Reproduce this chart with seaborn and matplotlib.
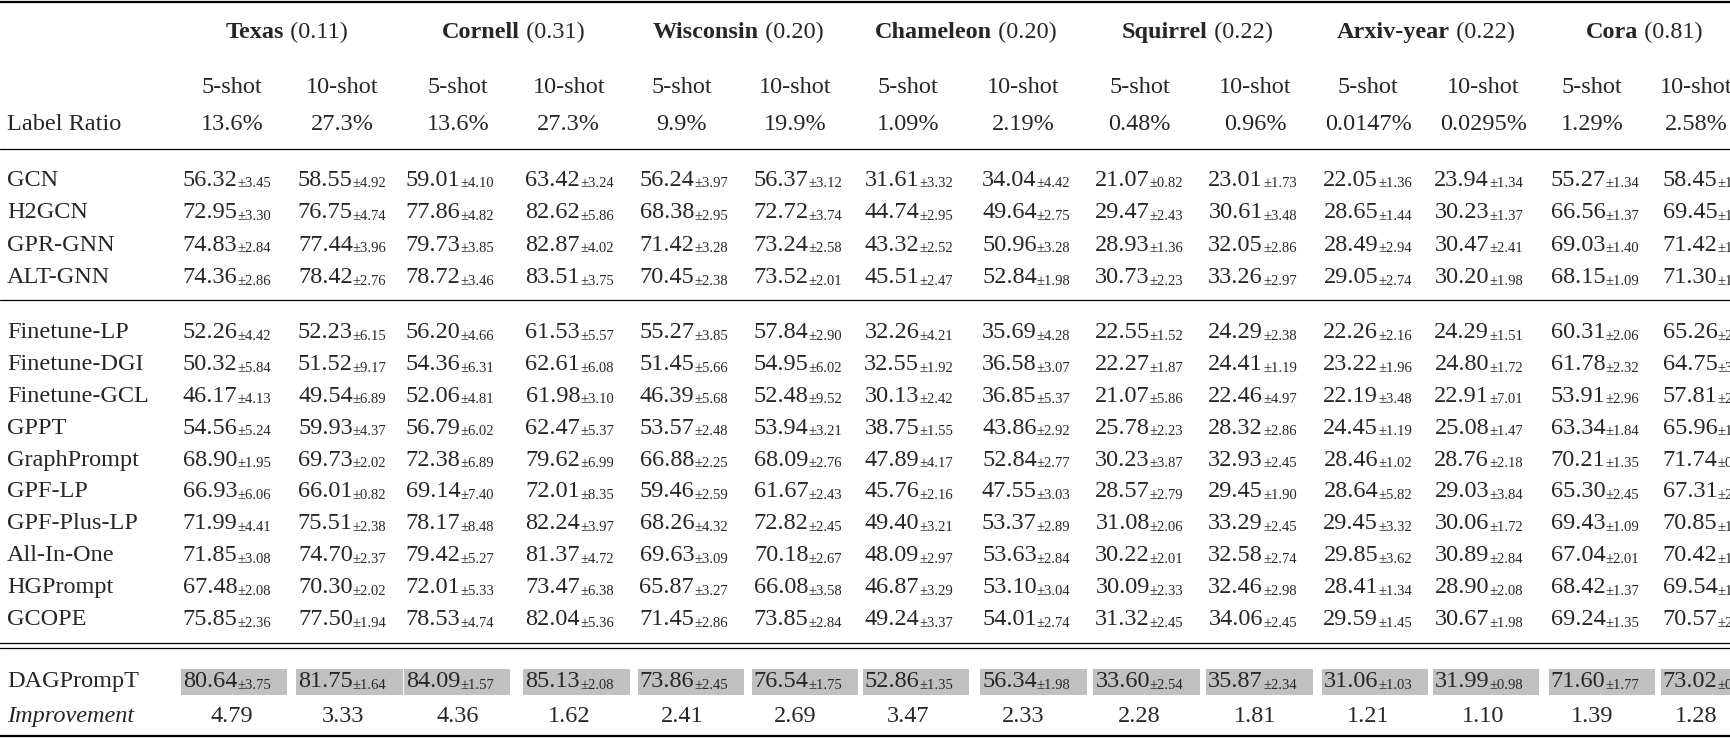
import matplotlib
matplotlib.use("Agg")
import matplotlib.pyplot as plt
import seaborn as sns
from matplotlib.patches import Rectangle

sns.set_theme(style="white")
plt.rcParams['font.family'] = ['Liberation Serif', 'DejaVu Serif']

datasets = ["Texas", "Cornell", "Wisconsin", "Chameleon", "Squirrel", "Arxiv-year", "Cora"]
homophily = ["(0.11)", "(0.31)", "(0.20)", "(0.20)", "(0.22)", "(0.22)", "(0.81)"]
shots = ["5-shot", "10-shot"] * 7
ratios = ["13.6%", "27.3%", "13.6%", "27.3%", "9.9%", "19.9%", "1.09%", "2.19%",
          "0.48%", "0.96%", "0.0147%", "0.0295%", "1.29%", "2.58%"]

group1 = ["GCN", "H2GCN", "GPR-GNN", "ALT-GNN"]
group1_mean = [
    [56.32, 58.55, 59.01, 63.42, 56.24, 56.37, 31.61, 34.04, 21.07, 23.01, 22.05, 23.94, 55.27, 58.45],
    [72.95, 76.75, 77.86, 82.62, 68.38, 72.72, 44.74, 49.64, 29.47, 30.61, 28.65, 30.23, 66.56, 69.45],
    [74.83, 77.44, 79.73, 82.87, 71.42, 73.24, 43.32, 50.96, 28.93, 32.05, 28.49, 30.47, 69.03, 71.42],
    [74.36, 78.42, 78.72, 83.51, 70.45, 73.52, 45.51, 52.84, 30.73, 33.26, 29.05, 30.20, 68.15, 71.30],
]
group1_std = [
    [3.45, 4.92, 4.10, 3.24, 3.97, 3.12, 3.32, 4.42, 0.82, 1.73, 1.36, 1.34, 1.34, 1.74],
    [3.30, 4.74, 4.82, 5.86, 2.95, 3.74, 2.95, 2.75, 2.43, 3.48, 1.44, 1.37, 1.37, 1.42],
    [2.84, 3.96, 3.85, 4.02, 3.28, 2.58, 2.52, 3.28, 1.36, 2.86, 2.94, 2.41, 1.40, 1.08],
    [2.86, 2.76, 3.46, 3.75, 2.38, 2.01, 2.47, 1.98, 2.23, 2.97, 2.74, 1.98, 1.09, 1.42],
]

group2 = ["Finetune-LP", "Finetune-DGI", "Finetune-GCL", "GPPT", "GraphPrompt", "GPF-LP",
          "GPF-Plus-LP", "All-In-One", "HGPrompt", "GCOPE"]
group2_mean = [
    [52.26, 52.23, 56.20, 61.53, 55.27, 57.84, 32.26, 35.69, 22.55, 24.29, 22.26, 24.29, 60.31, 65.26],
    [50.32, 51.52, 54.36, 62.61, 51.45, 54.95, 32.55, 36.58, 22.27, 24.41, 23.22, 24.80, 61.78, 64.75],
    [46.17, 49.54, 52.06, 61.98, 46.39, 52.48, 30.13, 36.85, 21.07, 22.46, 22.19, 22.91, 53.91, 57.81],
    [54.56, 59.93, 56.79, 62.47, 53.57, 53.94, 38.75, 43.86, 25.78, 28.32, 24.45, 25.08, 63.34, 65.96],
    [68.90, 69.73, 72.38, 79.62, 66.88, 68.09, 47.89, 52.84, 30.23, 32.93, 28.46, 28.76, 70.21, 71.74],
    [66.93, 66.01, 69.14, 72.01, 59.46, 61.67, 45.76, 47.55, 28.57, 29.45, 28.64, 29.03, 65.30, 67.31],
    [71.99, 75.51, 78.17, 82.24, 68.26, 72.82, 49.40, 53.37, 31.08, 33.29, 29.45, 30.06, 69.43, 70.85],
    [71.85, 74.70, 79.42, 81.37, 69.63, 70.18, 48.09, 53.63, 30.22, 32.58, 29.85, 30.89, 67.04, 70.42],
    [67.48, 70.30, 72.01, 73.47, 65.87, 66.08, 46.87, 53.10, 30.09, 32.46, 28.41, 28.90, 68.42, 69.54],
    [75.85, 77.50, 78.53, 82.04, 71.45, 73.85, 49.24, 54.01, 31.32, 34.06, 29.59, 30.67, 69.24, 70.57],
]
group2_std = [
    [4.42, 6.15, 4.66, 5.57, 3.85, 2.90, 4.21, 4.28, 1.52, 2.38, 2.16, 1.51, 2.06, 2.07],
    [5.84, 9.17, 6.31, 6.08, 5.66, 6.02, 1.92, 3.07, 1.87, 1.19, 1.96, 1.72, 2.32, 3.97],
    [4.13, 6.89, 4.81, 3.10, 5.68, 9.52, 2.42, 5.37, 5.86, 4.97, 3.48, 7.01, 2.96, 2.85],
    [5.24, 4.37, 6.02, 5.37, 2.48, 3.21, 1.55, 2.92, 2.23, 2.86, 1.19, 1.47, 1.84, 1.32],
    [1.95, 2.02, 6.89, 6.99, 2.25, 2.76, 4.17, 2.77, 3.87, 2.45, 1.02, 2.18, 1.35, 0.97],
    [6.06, 0.82, 7.40, 8.35, 2.59, 2.43, 2.16, 3.03, 2.79, 1.90, 5.82, 3.84, 2.45, 2.94],
    [4.41, 2.38, 8.48, 3.97, 4.32, 2.45, 3.21, 2.89, 2.06, 2.45, 3.32, 1.72, 1.09, 1.86],
    [3.08, 2.37, 5.27, 4.72, 3.09, 2.67, 2.97, 2.84, 2.01, 2.74, 3.62, 2.84, 2.01, 1.64],
    [2.08, 2.02, 5.33, 6.38, 3.27, 3.58, 3.29, 3.04, 2.33, 2.98, 1.34, 2.08, 1.37, 1.54],
    [2.36, 1.94, 4.74, 5.36, 2.86, 2.84, 3.37, 2.74, 2.45, 2.45, 1.45, 1.98, 1.35, 2.64],
]

ours = "DAGPrompT"
ours_mean = [80.64, 81.75, 84.09, 85.13, 73.86, 76.54, 52.86, 56.34, 33.60, 35.87, 31.06, 31.99, 71.60, 73.02]
ours_std = [3.75, 1.64, 1.57, 2.08, 2.45, 1.75, 1.35, 1.98, 2.54, 2.34, 1.03, 0.98, 1.77, 0.93]
improvement = [4.79, 3.33, 4.36, 1.62, 2.41, 2.69, 3.47, 2.33, 2.28, 1.81, 1.21, 1.10, 1.39, 1.28]

W, H = 1531, 606
col_start = [163, 265, 360, 466, 567, 668, 766, 870, 970, 1070, 1172, 1270, 1373, 1472]
col_center = [205, 303, 405, 503, 603, 703, 803, 905, 1008, 1110, 1210, 1312, 1408, 1500]
ds_center = [254, 454, 653, 854, 1059, 1261, 1454]
MAIN, SUB = 17.5, 10.5

fig = plt.figure(figsize=(17.31, 7.38), dpi=100)
ax = fig.add_axes([0, 0, 1, 1])
ax.set_xlim(0, W)
ax.set_ylim(H, 0)
ax.axis("off")

def cell(x0, y, m, s, hl=False):
    split = x0 + 47
    if hl:
        ax.add_patch(Rectangle((x0 - 3, y - 11), 94, 22, color="#c0c0c0", zorder=0, lw=0))
    ax.text(split, y, f"{m:.2f}", ha="right", va="center", fontsize=MAIN, zorder=2)
    ax.text(split, y + 3, f"±{s:.2f}", ha="left", va="center", fontsize=SUB, zorder=2)

fig.canvas.draw()
r = fig.canvas.get_renderer()
px_per_unit = ax.transData.transform((1, 0))[0] - ax.transData.transform((0, 0))[0]
for name, h, c in zip(datasets, homophily, ds_center):
    t1 = ax.text(0, 27, name, fontsize=MAIN, fontweight="bold", va="center", ha="left")
    t2 = ax.text(0, 27, " " + h, fontsize=MAIN, va="center", ha="left")
    w1 = t1.get_window_extent(r).width / px_per_unit
    w2 = t2.get_window_extent(r).width / px_per_unit
    t1.set_x(c - (w1 + w2) / 2)
    t2.set_x(c - (w1 + w2) / 2 + w1)

for sh, ra, c in zip(shots, ratios, col_center):
    ax.text(c, 72, sh, ha="center", va="center", fontsize=MAIN)
    ax.text(c, 102, ra, ha="center", va="center", fontsize=MAIN)
ax.text(6, 102, "Label Ratio", ha="left", va="center", fontsize=MAIN)

y = 148
for name, ms, ss in zip(group1, group1_mean, group1_std):
    ax.text(6, y, name, ha="left", va="center", fontsize=MAIN)
    for x0, m, s in zip(col_start, ms, ss):
        cell(x0, y, m, s)
    y += 26.7

y = 273
for name, ms, ss in zip(group2, group2_mean, group2_std):
    ax.text(6, y, name, ha="left", va="center", fontsize=MAIN)
    for x0, m, s in zip(col_start, ms, ss):
        cell(x0, y, m, s)
    y += 26.2

ax.text(6, 560, ours, ha="left", va="center", fontsize=MAIN)
for x0, m, s in zip(col_start, ours_mean, ours_std):
    cell(x0, 560, m, s, hl=True)
ax.text(6, 588, "Improvement", ha="left", va="center", fontsize=MAIN, style="italic")
for c, v in zip(col_center, improvement):
    ax.text(c, 588, f"{v:.2f}", ha="center", va="center", fontsize=MAIN)

for yy, lw in [(2, 1.6), (122, 0.9), (246, 0.9), (528, 0.9), (532, 0.9), (604, 1.6)]:
    ax.plot([0, W], [yy, yy], color="black", lw=lw)

fig.savefig("out.png", dpi=100)
